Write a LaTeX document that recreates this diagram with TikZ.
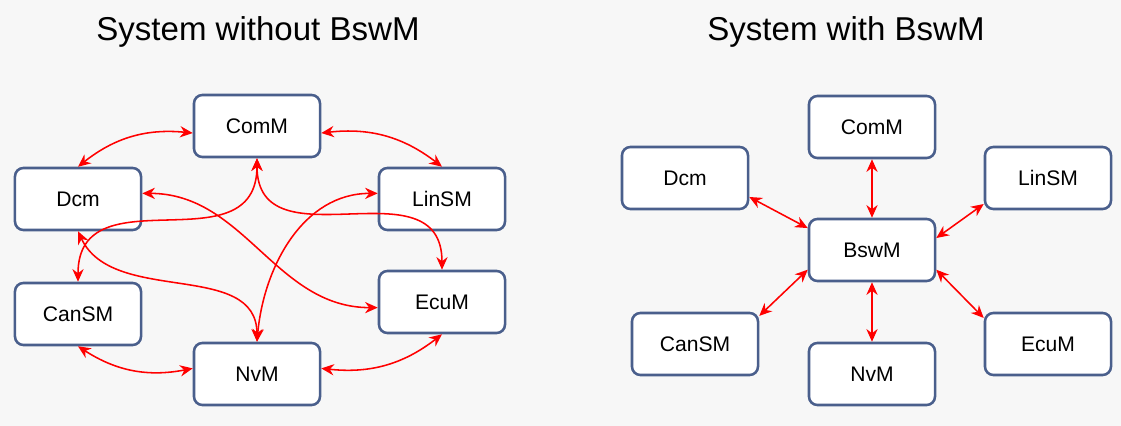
\documentclass[tikz,border=0pt]{standalone}
\usepackage{fontspec}
\setmainfont{Liberation Sans}
\usetikzlibrary{arrows.meta}
\definecolor{boxline}{HTML}{4A5F8C}
\tikzset{
  blk/.style={draw=boxline, line width=1.8pt, rounded corners=6pt, fill=white,
    minimum width=3.15cm, minimum height=1.55cm, font=\fontsize{15}{17}\selectfont},
  link/.style={red, line width=1.1pt, {Stealth[length=9pt,width=8pt]}-{Stealth[length=9pt,width=8pt]}},
  ttl/.style={font=\fontsize{23.5}{26}\selectfont}
}
\begin{document}
\begin{tikzpicture}[x=0.025cm, y=-0.025cm]
  \useasboundingbox (0,0) rectangle (1121,426);
  \fill[gray!6] (0,0) rectangle (1121,426);
  \node[ttl] (t1) at (258,32) {System without BswM};
  \node[ttl] (t2) at (846,32) {System with BswM};
  % without BswM
  \node[blk] (comm) at (257,126) {ComM};
  \node[blk] (dcm) at (78,199) {Dcm};
  \node[blk] (linsm) at (442,199) {LinSM};
  \node[blk] (cansm) at (78,314) {CanSM};
  \node[blk] (ecum) at (442,302) {EcuM};
  \node[blk] (nvm) at (257,374) {NvM};
  \draw[link] (dcm.north) to[bend left=22] ([yshift=-5pt]comm.west);
  \draw[link] ([yshift=-5pt]comm.east) to[bend left=22] (linsm.north);
  \draw[link] (cansm.south) to[bend right=22] ([yshift=4pt]nvm.west);
  \draw[link] ([yshift=4pt]nvm.east) to[bend right=22] (ecum.south);
  \draw[link] (comm.south) to[out=-90,in=90,looseness=1.3] (cansm.north);
  \draw[link] (comm.south) to[out=-90,in=90,looseness=1.3] (ecum.north);
  \draw[link] ([yshift=4pt]dcm.east) to[out=0,in=180] ([yshift=-4pt]ecum.west);
  \draw[link] (dcm.south) to[out=-65,in=90] (nvm.north);
  \draw[link] ([yshift=4pt]linsm.west) to[out=180,in=85] (nvm.north);
  % with BswM
  \node[blk] (bswm) at (872,250) {BswM};
  \node[blk] (comm2) at (872,127) {ComM};
  \node[blk] (dcm2) at (685,178) {Dcm};
  \node[blk] (linsm2) at (1048,178) {LinSM};
  \node[blk] (cansm2) at (695,344) {CanSM};
  \node[blk] (ecum2) at (1048,344) {EcuM};
  \node[blk] (nvm2) at (872,374) {NvM};
  \draw[link] (comm2.south) -- (bswm.north);
  \draw[link] (nvm2.north) -- (bswm.south);
  \draw[link] ([yshift=-13.5pt]dcm2.east) -- ([yshift=15.6pt]bswm.west);
  \draw[link] ([yshift=-18.5pt]linsm2.west) -- ([yshift=8.5pt]bswm.east);
  \draw[link] ([yshift=20pt]cansm2.east) -- ([yshift=-14pt]bswm.west);
  \draw[link] ([yshift=18.5pt]ecum2.west) -- ([yshift=-14pt]bswm.east);
\end{tikzpicture}
\end{document}
